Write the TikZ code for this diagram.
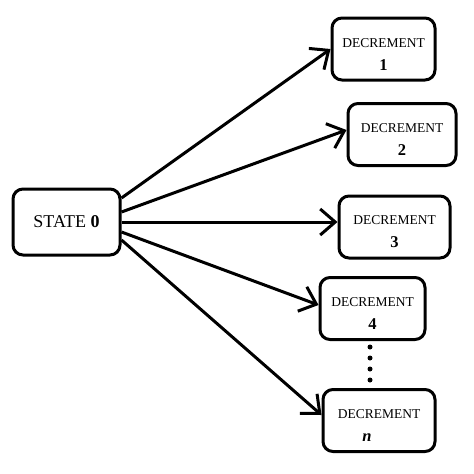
\documentclass[tikz,border=0pt]{standalone}
\usepackage{fontspec}
\setmainfont{Liberation Serif}
\usetikzlibrary{arrows.meta,positioning}
\tikzset{
    %Define standard arrow tip
    >={Straight Barb[length=15pt,width=26pt]},
    %Define style for boxes
    kasten/.style={
           rectangle, rounded corners=10pt,
           draw=black, line width=3pt,
           minimum width=106pt,
           minimum height=62pt,
           align=center,
           font=\fontsize{13.5}{21}\selectfont},
    % Define arrow style
    pfeil/.style={
           ->,
           line width=3pt}
}
\newcommand{\dekr}[1]{\rule{0pt}{19pt}DECREMENT\\[2pt]{\fontsize{16.5}{21}\selectfont\bfseries #1}}
\begin{document}
\begin{tikzpicture}[x=1pt,y=-1pt]
\useasboundingbox (0,0) rectangle (474,474);

%nodes
\node[kasten, minimum width=107pt, minimum height=66pt,
      font=\fontsize{18}{21}\selectfont] (s0) at (66.5,222) {STATE \textbf{0}};
\node[kasten, minimum width=103pt] (d1) at (383.5,49) {\dekr{1}};
\node[kasten, minimum width=108pt] (d2) at (402,134.5) {\dekr{2}};
\node[kasten, minimum width=111pt] (d3) at (394.5,227) {\dekr{3}};
\node[kasten, minimum width=105pt] (d4) at (372.5,308.5) {\dekr{4}};
\node[kasten, minimum width=112pt] (dn) at (379,420.5) {\dekr{\hspace*{-24pt}\itshape n}};

\draw [pfeil] ([yshift=24pt]s0.east) -- (d1.west);
\draw [pfeil] ([yshift=10pt]s0.east) -- ([yshift=4.5pt]d2.west);
\draw [pfeil] (s0.east) -- ([yshift=5pt]d3.west);
\draw [pfeil] ([yshift=-10pt]s0.east) -- ([yshift=3.5pt]d4.west);
\draw [pfeil] ([yshift=-18pt]s0.east) -- ([yshift=5.5pt]dn.west);

% dots between 4 and n
\foreach \y in {347,358,369,380}
    \fill (370,\y) circle (2.5pt);

\end{tikzpicture}
\end{document}
